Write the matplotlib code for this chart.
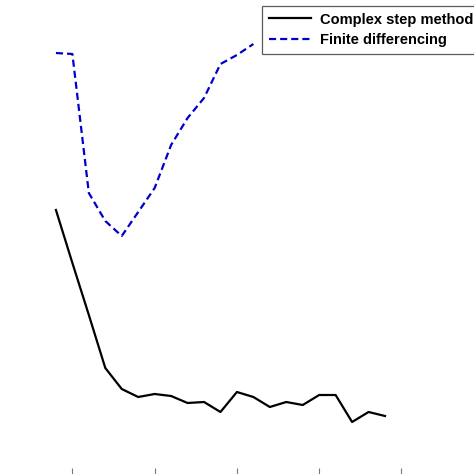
import numpy as np
import matplotlib.pyplot as plt

# step index (x) and error level (arbitrary units)
steps_complex = list(range(21))
err_complex = [26.4, 21.1, 15.9, 10.6, 8.5, 7.7, 8.0, 7.8, 7.1, 7.2, 6.2,
               8.2, 7.7, 6.7, 7.2, 6.9, 7.9, 7.9, 5.2, 6.2, 5.8]

steps_finite = list(range(13))
err_finite = [42.1, 42.0, 28.1, 25.3, 23.8, 26.2, 28.6, 32.9, 35.6, 37.6,
              41.0, 41.9, 43.0]

tick_positions = [1, 6, 11, 16, 21]

plt.rcParams['font.family'] = ['Liberation Sans', 'DejaVu Sans']

fig = plt.figure(figsize=(4.74, 4.74), dpi=100)
ax = fig.add_axes([0, 0, 1, 1])

ax.plot(steps_complex, err_complex, color='black', lw=1.6,
        label='Complex step method')
ax.plot(steps_finite, err_finite, color='#0000cc', lw=1.6,
        linestyle=(0, (3.2, 1.8)), label='Finite differencing')

ax.set_xlim(-3.40, 25.41)
ax.set_ylim(0, 47.4)

for s in ax.spines.values():
    s.set_visible(False)
ax.set_xticks(tick_positions)
ax.set_xticklabels([])
ax.set_yticks([])
ax.tick_params(axis='x', direction='in', length=4.3, width=0.8,
               color='#777777')

leg = ax.legend(loc='upper left', bbox_to_anchor=(262 / 474, 1 - 6 / 474),
                bbox_transform=fig.transFigure, fontsize=10.5,
                frameon=True, fancybox=False, handlelength=2.9,
                handletextpad=0.6, borderpad=0.45, labelspacing=0.45,
                borderaxespad=0)
leg.get_frame().set_edgecolor('#333333')
leg.get_frame().set_linewidth(0.9)
for t in leg.get_texts():
    t.set_fontweight('bold')

fig.savefig('out.png', dpi=100)
